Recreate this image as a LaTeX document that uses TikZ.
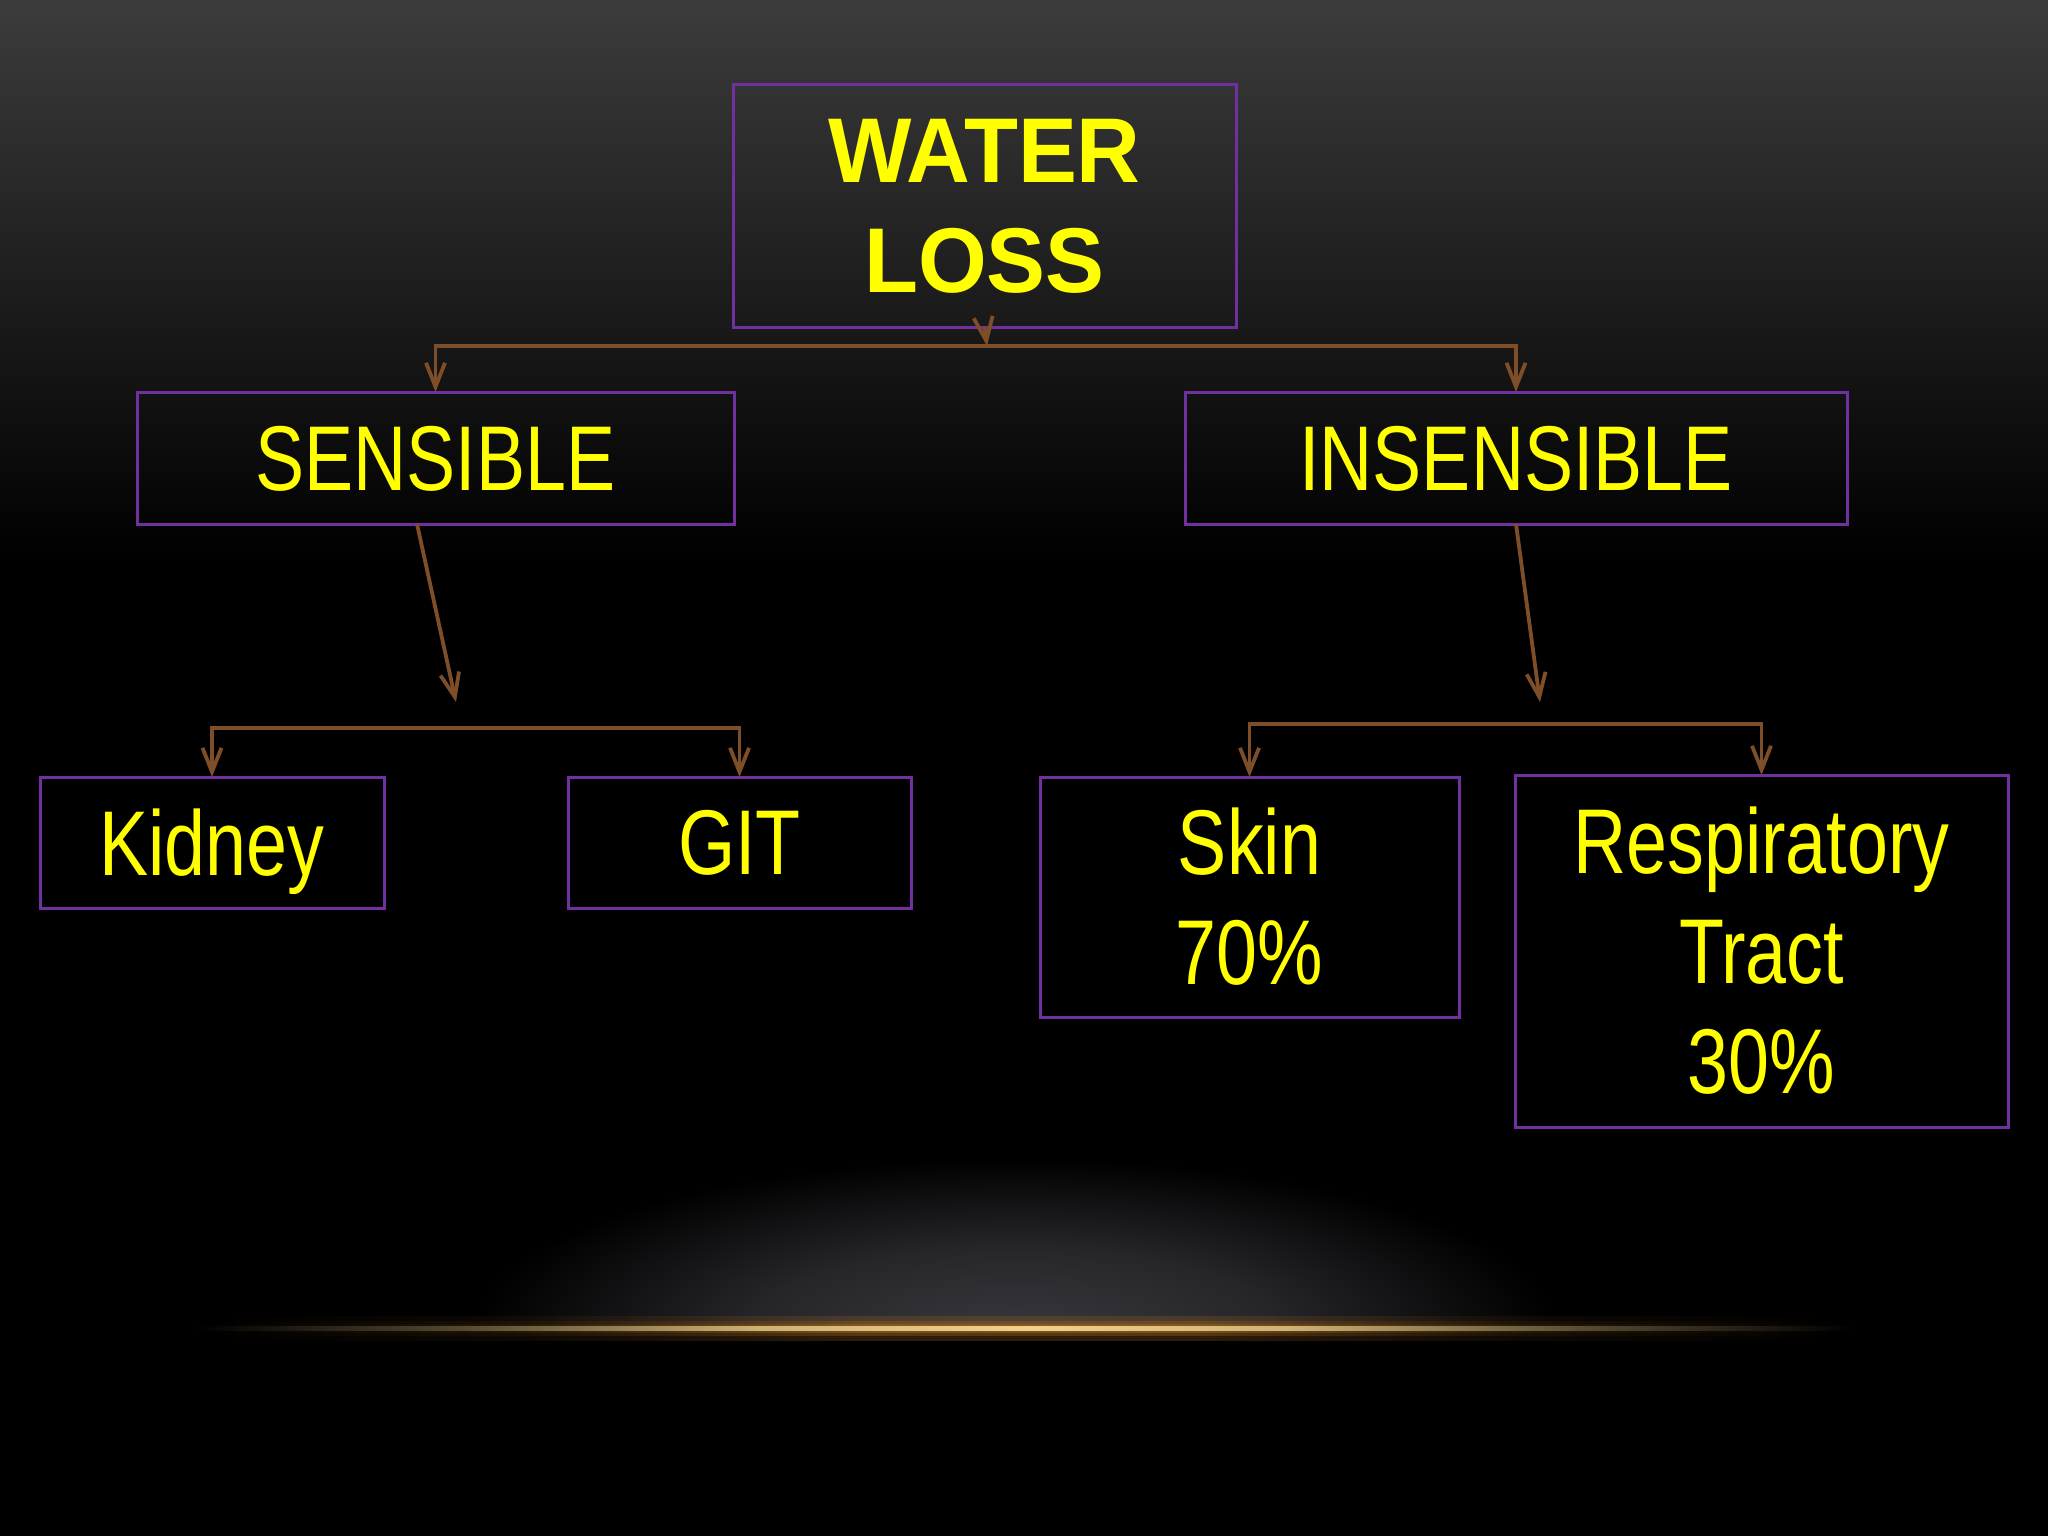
\documentclass[tikz,border=0pt]{standalone}
\usepackage{fontspec}
\usetikzlibrary{arrows.meta}
\newfontfamily\rfont[FakeStretch=0.8]{Liberation Sans}
\newfontfamily\bfont[FakeStretch=0.96]{Liberation Sans}
\definecolor{bgtop}{RGB}{60,60,60}
\definecolor{boxpurple}{RGB}{112,48,160}
\definecolor{connbrown}{RGB}{125,78,40}
\definecolor{txtyellow}{RGB}{255,255,0}
\definecolor{glowc}{RGB}{54,54,60}
\definecolor{gcore}{RGB}{240,210,140}
\definecolor{ghalo}{RGB}{150,95,30}
\pgfdeclareradialshading{domeglow}{\pgfpoint{0bp}{0bp}}{color(0bp)=(glowc); color(12bp)=(glowc!70!black); color(25bp)=(black); color(50bp)=(black)}
\pgfdeclarehorizontalshading{goldcore}{100bp}{color(0bp)=(black); color(25bp)=(black); color(33bp)=(gcore!35!black); color(42bp)=(gcore!85!black); color(50bp)=(gcore); color(58bp)=(gcore!85!black); color(67bp)=(gcore!35!black); color(75bp)=(black); color(100bp)=(black)}
\pgfdeclarehorizontalshading{goldhalo}{100bp}{color(0bp)=(black); color(25bp)=(black); color(35bp)=(ghalo!30!black); color(45bp)=(ghalo); color(55bp)=(ghalo); color(65bp)=(ghalo!30!black); color(75bp)=(black); color(100bp)=(black)}
\tikzset{
  box/.style={draw=boxpurple, line width=3pt, inner sep=0pt, outer sep=0pt,
    text=txtyellow, align=center, font=\rfont\fontsize{92}{110}\selectfont},
  titlebox/.style={box, font=\bfont\bfseries\fontsize{92}{110}\selectfont},
  conn/.style={draw=connbrown, line width=3.8pt},
  tip/.tip={Straight Barb[length=24pt,width=19pt]}
}
\begin{document}
\begin{tikzpicture}[x=1pt,y=-1pt]
\useasboundingbox (0,0) rectangle (2048,1536);
% background
\fill[black] (0,0) rectangle (2048,1536);
\shade[top color=bgtop, bottom color=black] (0,0) rectangle (2048,560);
% bottom glow
\begin{scope}
  \clip (0,0) rectangle (2048,1328);
  \shade[shading=domeglow] (1015,1328) ellipse [x radius=540, y radius=170];
\end{scope}
\shade[shading=goldhalo, opacity=0.3] (196,1316) rectangle (1855,1340);
\shade[shading=goldhalo, opacity=0.4] (196,1321) rectangle (1855,1335);
\shade[shading=goldhalo, opacity=0.6] (196,1324) rectangle (1855,1332);
\shade[shading=goldcore] (196,1326) rectangle (1855,1330);
% boxes
\node[titlebox, minimum width=503pt, minimum height=242pt] (water) at (984.5,206) {WATER\\LOSS};
\node[box, minimum width=597pt, minimum height=132pt, text depth=0pt] (sens) at (435.5,458) {SENSIBLE};
\node[box, minimum width=662pt, minimum height=132pt, text depth=0pt] (insens) at (1516,458) {INSENSIBLE};
\node[box, minimum width=344pt, minimum height=131pt, text depth=0pt] (kid) at (212,842.5) {Kidney};
\node[box, minimum width=343pt, minimum height=131pt, text depth=0pt] (git) at (739.5,842.5) {GIT};
\node[box, minimum width=419pt, minimum height=240pt] (skin) at (1249.5,897) {Skin\\70\%};
\node[box, minimum width=493pt, minimum height=352pt] (resp) at (1761.5,951) {Respiratory\\Tract\\30\%};
% connectors
\coordinate (hub) at (987,346);
\coordinate (sa) at (456,702);
\coordinate (ia) at (1540,702);
\coordinate (sb) at (476,728);
\coordinate (ib) at (1505,724);
\draw[conn,-tip] (water.south) -- (hub);
\draw[conn,tip-tip] (sens.north) |- (hub) -| (insens.north);
\draw[conn,-tip] ([xshift=-18.5pt]sens.south) -- (sa);
\draw[conn,-tip] (insens.south) -- (ia);
\draw[conn,tip-tip] (kid.north) |- (sb) -| (git.north);
\draw[conn,tip-tip] (skin.north) |- (ib) -| (resp.north);
\end{tikzpicture}
\end{document}
